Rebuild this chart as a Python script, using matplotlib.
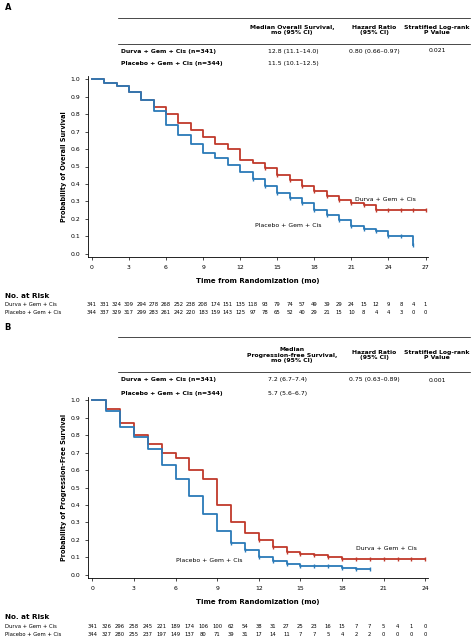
import numpy as np
import matplotlib.pyplot as plt
from matplotlib.lines import Line2D

RED = '#c0392b'
BLUE = '#2a7ab8'

os_months = list(range(28))
os_durva = [1.0, 0.98, 0.96, 0.93, 0.88, 0.84, 0.80, 0.75, 0.71, 0.67, 0.63, 0.60, 0.54, 0.52,
            0.49, 0.45, 0.42, 0.39, 0.36, 0.33, 0.31, 0.29, 0.28, 0.25, 0.25, 0.25, 0.25, 0.25]
os_placebo = [1.0, 0.98, 0.96, 0.93, 0.88, 0.82, 0.74, 0.68, 0.63, 0.58, 0.55, 0.51, 0.47, 0.43,
              0.39, 0.35, 0.32, 0.29, 0.25, 0.22, 0.19, 0.16, 0.14, 0.13, 0.10, 0.10, 0.05]
os_risk_durva = [341, 331, 324, 309, 294, 278, 268, 252, 238, 208, 174, 151, 135, 118, 93, 79,
                 74, 57, 49, 39, 29, 24, 15, 12, 9, 8, 4, 1]
os_risk_placebo = [344, 337, 329, 317, 299, 283, 261, 242, 220, 183, 159, 143, 125, 97, 78, 65,
                   52, 40, 29, 21, 15, 10, 8, 4, 4, 3, 0, 0]

pfs_months = list(range(25))
pfs_durva = [1.0, 0.95, 0.87, 0.80, 0.75, 0.70, 0.67, 0.60, 0.55, 0.40, 0.30, 0.24, 0.20, 0.16,
             0.13, 0.12, 0.11, 0.10, 0.09, 0.09, 0.09, 0.09, 0.09, 0.09, 0.09]
pfs_placebo = [1.0, 0.94, 0.85, 0.79, 0.72, 0.63, 0.55, 0.45, 0.35, 0.25, 0.18, 0.14, 0.10, 0.08,
               0.06, 0.05, 0.05, 0.05, 0.04, 0.03, 0.03]
pfs_risk_durva = [341, 326, 296, 258, 245, 221, 189, 174, 106, 100, 62, 54, 38, 31, 27, 25, 23,
                  16, 15, 7, 7, 5, 4, 1, 0]
pfs_risk_placebo = [344, 327, 280, 255, 237, 197, 149, 137, 80, 71, 39, 31, 17, 14, 11, 7, 7, 5,
                    4, 2, 2, 0, 0, 0, 0]

W, H = 474, 643
fig = plt.figure(figsize=(W / 100, H / 100), dpi=100)
fs = 4.4


def fy(px):
    # pixel row from top -> figure fraction
    return 1 - px / H


def panel(ax_top, ax_bot, pos, letter, months, durva, placebo, rd, rp, xmax, ylabel, header, rows, lab_pos):
    ax = fig.add_axes([0.186, fy(ax_bot), 0.717, fy(ax_top) - fy(ax_bot)])
    ax.step(months[:len(durva)], durva, where='post', color=RED, lw=1.3)
    ax.step(months[:len(placebo)], placebo, where='post', color=BLUE, lw=1.3)
    ax.plot(months[len(durva) // 2:len(durva)], durva[len(durva) // 2:], '|', color=RED, ms=3)
    ax.plot(months[len(placebo) // 2:len(placebo)], placebo[len(placebo) // 2:], '|', color=BLUE, ms=3)
    ax.set_xlim(-0.3, xmax + 0.2)
    ax.set_ylim(-0.02, 1.02)
    ax.set_xticks(range(0, xmax + 1, 3))
    ax.set_yticks(np.arange(0, 1.01, 0.1))
    ax.set_yticklabels(['%.1f' % v for v in np.arange(0, 1.01, 0.1)])
    ax.tick_params(labelsize=fs, length=2, width=0.5)
    for s in ['top', 'right']:
        ax.spines[s].set_visible(False)
    for s in ['left', 'bottom']:
        ax.spines[s].set_linewidth(0.6)
    ax.set_ylabel(ylabel, fontsize=fs + 0.3, fontweight='bold', labelpad=3)
    ax.set_xlabel('Time from Randomization (mo)', fontsize=fs + 0.6, fontweight='bold', labelpad=6)
    ax.text(lab_pos[0][0], lab_pos[0][1], 'Durva + Gem + Cis', fontsize=fs, ha='left')
    ax.text(lab_pos[1][0], lab_pos[1][1], 'Placebo + Gem + Cis', fontsize=fs, ha='right')
    p_letter, p_l1, p_head, p_l2, p_r1, p_r2 = pos
    fig.text(0.01, fy(p_letter), letter, fontsize=6, fontweight='bold', va='center')
    # summary table
    fig.text(0.616, fy(p_head), header, fontsize=fs, fontweight='bold', ha='center', va='center')
    fig.text(0.79, fy(p_head), 'Hazard Ratio\n(95% CI)', fontsize=fs, fontweight='bold', ha='center', va='center')
    fig.text(0.922, fy(p_head), 'Stratified Log-rank\nP Value', fontsize=fs, fontweight='bold', ha='center', va='center')
    fig.add_artist(Line2D([0.249, 0.992], [fy(p_l1)] * 2, color='k', lw=0.5))
    fig.add_artist(Line2D([0.249, 0.992], [fy(p_l2)] * 2, color='k', lw=0.5))
    fig.text(0.256, fy(p_r1), 'Durva + Gem + Cis (n=341)', fontsize=fs, fontweight='bold', va='center')
    fig.text(0.256, fy(p_r2), 'Placebo + Gem + Cis (n=344)', fontsize=fs, fontweight='bold', va='center')
    fig.text(0.565, fy(p_r1), rows[0], fontsize=fs, va='center')
    fig.text(0.565, fy(p_r2), rows[1], fontsize=fs, va='center')
    fig.text(0.79, fy(p_r1), rows[2], fontsize=fs, ha='center', va='center')
    fig.text(0.922, fy(p_r1), rows[3], fontsize=fs, ha='center', va='center')
    # risk table
    fig.text(0.01, fy(ax_bot + 39), 'No. at Risk', fontsize=fs + 0.8, fontweight='bold', va='center')
    fig.text(0.01, fy(ax_bot + 48), 'Durva + Gem + Cis', fontsize=fs - 0.6, va='center')
    fig.text(0.01, fy(ax_bot + 56), 'Placebo + Gem + Cis', fontsize=fs - 0.6, va='center')
    for m, a, b in zip(months, rd, rp):
        x = ax.transData.transform((m, 0))[0] / fig.bbox.width
        fig.text(x, fy(ax_bot + 48), str(a), fontsize=fs - 0.6, ha='center', va='center')
        fig.text(x, fy(ax_bot + 56), str(b), fontsize=fs - 0.6, ha='center', va='center')
    return ax


panel(76, 257, (8, 18, 30, 44, 51, 64), 'A', os_months, os_durva, os_placebo, os_risk_durva,
      os_risk_placebo, 27, 'Probability of Overall Survival',
      'Median Overall Survival,\nmo (95% CI)',
      ['12.8 (11.1\u201314.0)', '11.5 (10.1\u201312.5)', '0.80 (0.66\u20130.97)', '0.021'],
      [(21.3, 0.30), (18.6, 0.15)])
panel(397, 578, (327, 337, 355, 372, 380, 393), 'B', pfs_months, pfs_durva, pfs_placebo,
      pfs_risk_durva, pfs_risk_placebo, 24, 'Probability of Progression-Free Survival',
      'Median\nProgression-free Survival,\nmo (95% CI)',
      ['7.2 (6.7\u20137.4)', '5.7 (5.6\u20136.7)', '0.75 (0.63\u20130.89)', '0.001'],
      [(19.0, 0.14), (10.8, 0.07)])

fig.savefig('out.png', dpi=100)
